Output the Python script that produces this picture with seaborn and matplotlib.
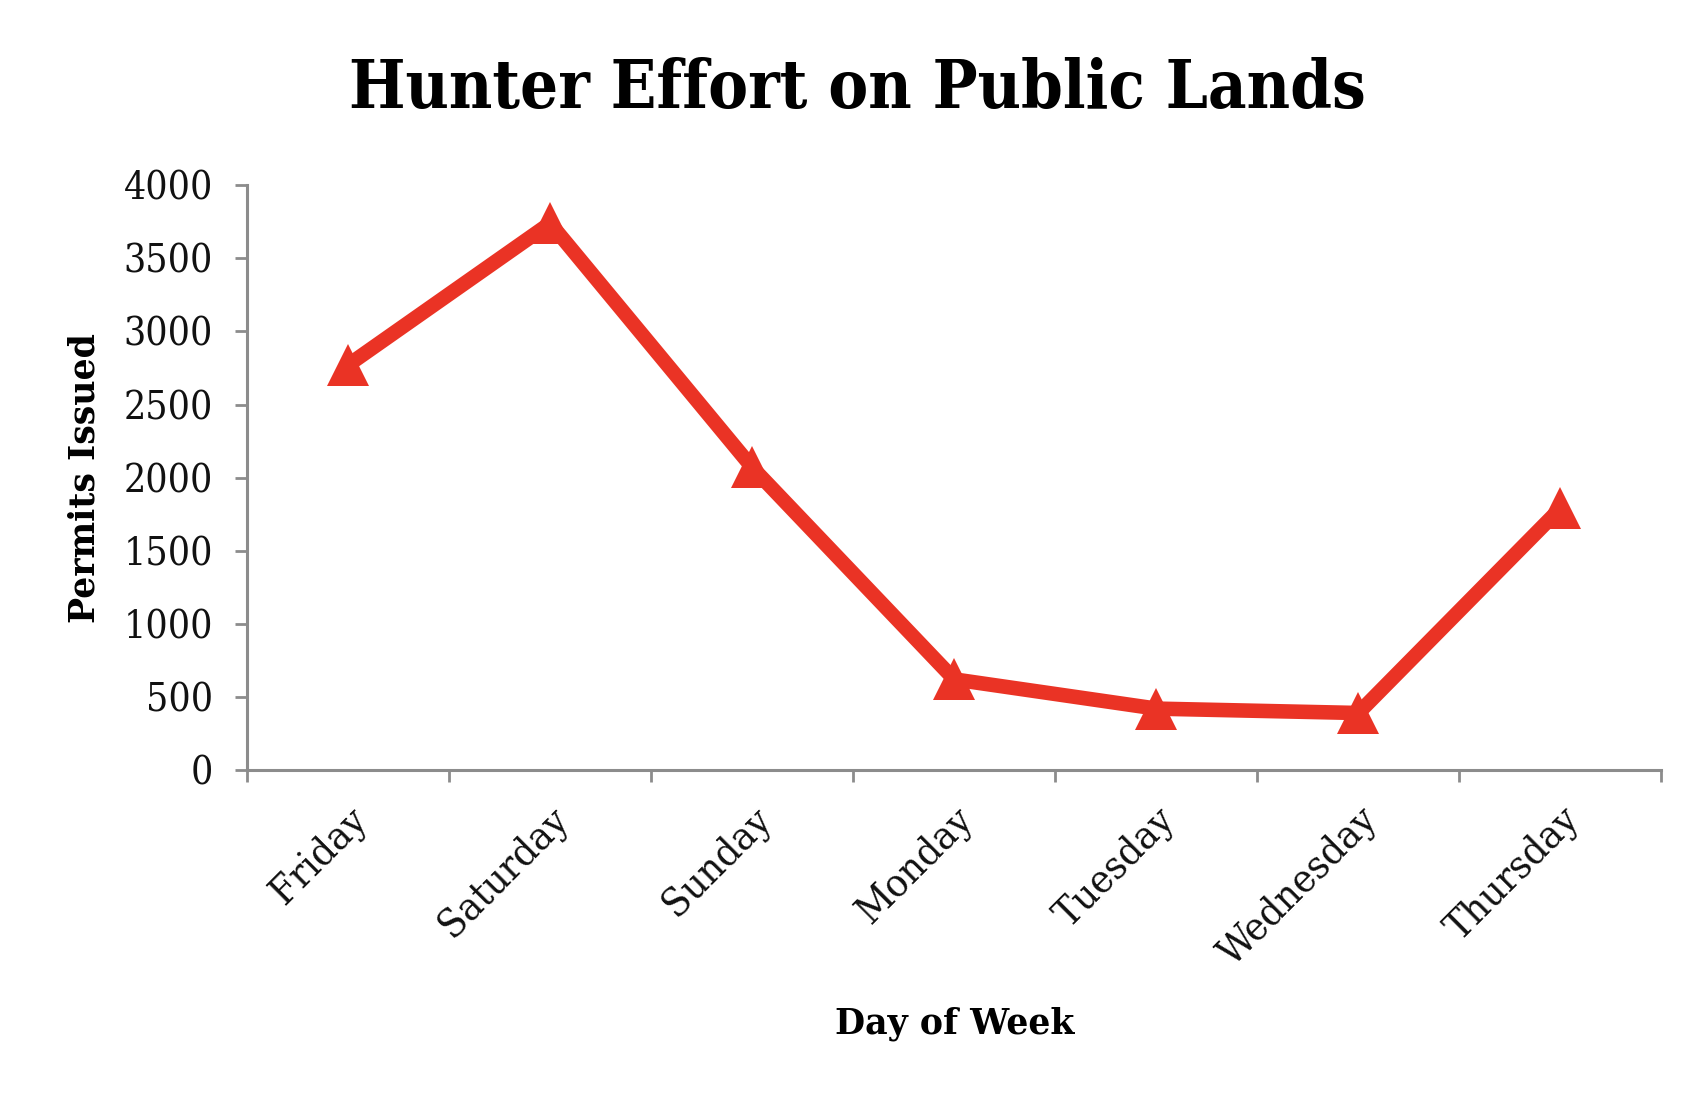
import numpy as np
import pandas as pd
import matplotlib
matplotlib.use("Agg")
import matplotlib.pyplot as plt
from matplotlib.ticker import FixedLocator, NullFormatter, FixedFormatter
import seaborn as sns

days = ["Friday", "Saturday", "Sunday", "Monday", "Tuesday", "Wednesday", "Thursday"]
permits = [2770, 3740, 2070, 620, 420, 390, 1790]
y_ticks = [0, 500, 1000, 1500, 2000, 2500, 3000, 3500, 4000]

title = "Hunter Effort on Public Lands"
x_label = "Day of Week"
y_label = "Permits Issued"

sns.set_theme(style="white")
plt.rcParams["font.family"] = ["DejaVu Serif"]
plt.rcParams["text.color"] = "black"

red = "#EA3325"
grey = "#8C8C8C"

fig = plt.figure(figsize=(16.98, 10.93), dpi=100)
ax = fig.add_axes([0.1455, 0.2955, 0.8330, 0.5350])

df = pd.DataFrame({"pos": np.arange(len(days)), "permits": permits})
sns.lineplot(data=df, x="pos", y="permits", ax=ax, color=red, linewidth=10.5,
             marker="^", markersize=30, markeredgewidth=0, markerfacecolor=red)

ax.set_xlim(-0.5, len(days) - 0.5)
ax.set_ylim(0, 4000)
ax.set_yticks(y_ticks)
ax.set_yticklabels([str(v) for v in y_ticks])

ax.xaxis.set_major_locator(FixedLocator(np.arange(len(days) + 1) - 0.5))
ax.xaxis.set_major_formatter(NullFormatter())
ax.xaxis.set_minor_locator(FixedLocator(np.arange(len(days))))
ax.xaxis.set_minor_formatter(FixedFormatter(days))
ax.tick_params(axis="x", which="major", direction="out", length=8.5, width=2, color=grey, bottom=True)
ax.tick_params(axis="x", which="minor", length=0, labelsize=29, labelcolor="#111111", pad=22)
for lbl in ax.get_xticklabels(minor=True):
    lbl.set_rotation(45)
    lbl.set_ha("right")
    lbl.set_rotation_mode("anchor")
    lbl.set_fontstretch("condensed")
ax.tick_params(axis="y", direction="out", length=8.5, width=2, color=grey, left=True,
               labelsize=28, labelcolor="#111111", pad=16)
for lbl in ax.get_yticklabels():
    lbl.set_fontstretch("condensed")

for side in ["top", "right"]:
    ax.spines[side].set_visible(False)
for side in ["left", "bottom"]:
    ax.spines[side].set_color(grey)
    ax.spines[side].set_linewidth(2.2)

ax.set_xlabel(x_label, fontsize=25, fontweight="bold", labelpad=24, color="black")
ax.set_ylabel(y_label, fontsize=25, fontweight="bold", labelpad=16, color="black")
fig.suptitle(title, fontsize=48, fontweight="bold", fontstretch="condensed",
             x=0.505, y=0.948, color="black")

fig.savefig("out.png", dpi=100, facecolor="white")
